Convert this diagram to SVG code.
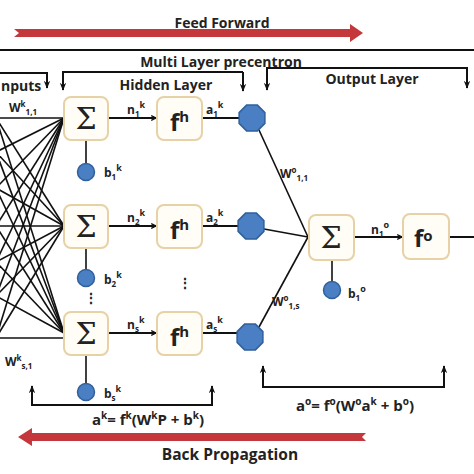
<svg xmlns="http://www.w3.org/2000/svg" width="474" height="474" viewBox="0 0 474 474">
<style>
.t{font-family:"Open Sans","Liberation Sans",sans-serif;font-weight:bold;fill:#222;}
.box{fill:#fffdf6;stroke:#e6d2a6;stroke-width:2;}
.blue{fill:#4a7fc3;stroke:#30609c;stroke-width:1.5;}
.ln{stroke:#111;stroke-width:2;fill:none;}
.thin{stroke:#111;stroke-width:1.6;fill:none;}
.red{fill:#c4373a;}
.sig{font-family:"DejaVu Serif","Liberation Serif",serif;font-size:30px;fill:#222;}
.f{font-family:"Open Sans","Liberation Sans",sans-serif;font-weight:bold;font-size:24px;fill:#222;}
</style>
<defs>
<marker id="ah" viewBox="0 0 10 10" refX="9" refY="5" markerWidth="6" markerHeight="6" orient="auto" markerUnits="userSpaceOnUse">
<path d="M1,1 L9,5 L1,9" fill="none" stroke="#111" stroke-width="2"/>
</marker>
<marker id="ah2" viewBox="0 0 10 10" refX="9" refY="5" markerWidth="8" markerHeight="8" orient="auto" markerUnits="userSpaceOnUse">
<path d="M0,1 L10,5 L0,9 L3,5 Z" fill="#111"/>
</marker>
<polygon id="oct" points="12.9,5.4 5.4,12.9 -5.4,12.9 -12.9,5.4 -12.9,-5.4 -5.4,-12.9 5.4,-12.9 12.9,-5.4"/>
</defs>
<rect width="474" height="474" fill="#fff"/>

<g id="feed-forward">
<path class="red" d="M14,29 L350,29 L350,24 L363,33 L350,42 L350,37 L14,37 L19,33 Z"/>
<text class="t" x="222" y="28" font-size="14" text-anchor="middle">Feed Forward</text>
</g>
<g id="back-propagation">
<path class="red" d="M18,437 L32,428 L32,433 L366,433 L362,437 L366,441 L32,441 L32,446 Z"/>
<text class="t" x="230" y="460" font-size="15.5" text-anchor="middle">Back Propagation</text>
</g>

<g id="connectors">
<line class="ln" x1="0" y1="50" x2="474" y2="50"/>
<path class="ln" d="M0,73 L47,73 L47,88" marker-end="url(#ah2)"/>
<path class="ln" d="M243,72 L63,72 L63,90" marker-end="url(#ah2)"/>
<path class="ln" d="M243,72 L243,91" marker-end="url(#ah2)"/>
<path class="ln" d="M267,88 L267,68 L467,68 L467,88" marker-end="url(#ah2)"/>
<path class="ln" d="M267,68 L267,90" marker-end="url(#ah2)"/>
<path class="ln" d="M32,390 L32,405 L212,405 L212,390"/>
<line class="ln" x1="32" y1="395" x2="32" y2="386" marker-end="url(#ah2)"/>
<line class="ln" x1="212" y1="395" x2="212" y2="386" marker-end="url(#ah2)"/>
<path class="ln" d="M263,370 L263,387 L444,387 L444,370"/>
<line class="ln" x1="263" y1="376" x2="263" y2="366" marker-end="url(#ah2)"/>
<line class="ln" x1="444" y1="376" x2="444" y2="366" marker-end="url(#ah2)"/>
<g class="thin">
<line x1="-4" y1="118" x2="64" y2="118"/><line x1="-4" y1="118" x2="64" y2="226"/><line x1="-4" y1="118" x2="64" y2="333"/>
<line x1="-4" y1="152" x2="64" y2="118"/><line x1="-4" y1="152" x2="64" y2="226"/><line x1="-4" y1="152" x2="64" y2="333"/>
<line x1="-4" y1="188" x2="64" y2="118"/><line x1="-4" y1="188" x2="64" y2="226"/><line x1="-4" y1="188" x2="64" y2="333"/>
<line x1="-4" y1="226" x2="64" y2="118"/><line x1="-4" y1="226" x2="64" y2="226"/><line x1="-4" y1="226" x2="64" y2="333"/>
<line x1="-4" y1="262" x2="64" y2="118"/><line x1="-4" y1="262" x2="64" y2="226"/><line x1="-4" y1="262" x2="64" y2="333"/>
<line x1="-4" y1="296" x2="64" y2="118"/><line x1="-4" y1="296" x2="64" y2="226"/><line x1="-4" y1="296" x2="64" y2="333"/>
<line x1="-4" y1="338" x2="64" y2="118"/><line x1="-4" y1="338" x2="64" y2="226"/><line x1="-4" y1="338" x2="64" y2="338"/>
</g>
<line class="ln" x1="108" y1="118" x2="156" y2="118" marker-end="url(#ah)"/>
<line class="ln" x1="202" y1="118" x2="239" y2="118"/>
<line class="ln" x1="108" y1="226" x2="156" y2="226" marker-end="url(#ah)"/>
<line class="ln" x1="202" y1="226" x2="238" y2="226"/>
<line class="ln" x1="108" y1="333" x2="156" y2="333" marker-end="url(#ah)"/>
<line class="ln" x1="202" y1="333" x2="237" y2="333"/>
<line class="thin" x1="86" y1="140" x2="86" y2="164"/>
<line class="thin" x1="86" y1="248" x2="86" y2="270"/>
<line class="thin" x1="86" y1="355" x2="86" y2="384"/>
<line class="thin" x1="332" y1="260" x2="332" y2="282"/>
<line class="thin" x1="259" y1="130" x2="308" y2="237"/>
<line class="thin" x1="264" y1="229" x2="308" y2="237"/>
<line class="thin" x1="259" y1="327" x2="308" y2="237"/>
<line class="ln" x1="354" y1="237" x2="402" y2="237" marker-end="url(#ah)"/>
<line class="ln" x1="449" y1="237" x2="474" y2="237"/>
</g>

<g id="labels">
<text class="t" x="1" y="91" font-size="14">nputs</text>
<text class="t" x="221" y="67" font-size="14" text-anchor="middle">Multi Layer precentron</text>
<text class="t" x="166" y="90" font-size="14" text-anchor="middle">Hidden Layer</text>
<text class="t" x="372" y="84" font-size="14" text-anchor="middle">Output Layer</text>
<text class="t" x="9" y="112" font-size="12">W<tspan font-size="8" dy="-5">k</tspan><tspan font-size="8" dy="8">1,1</tspan></text>
<text class="t" x="5" y="366" font-size="12">W<tspan font-size="8" dy="-5">k</tspan><tspan font-size="8" dy="8">s,1</tspan></text>
<text class="t" x="127" y="114" font-size="12">n<tspan font-size="8" dy="3">1</tspan><tspan font-size="9" dy="-9">k</tspan></text>
<text class="t" x="127" y="222" font-size="12">n<tspan font-size="8" dy="3">2</tspan><tspan font-size="9" dy="-9">k</tspan></text>
<text class="t" x="127" y="329" font-size="12">n<tspan font-size="8" dy="3">s</tspan><tspan font-size="9" dy="-9">k</tspan></text>
<text class="t" x="206" y="114" font-size="12">a<tspan font-size="8" dy="3">1</tspan><tspan font-size="9" dy="-9">k</tspan></text>
<text class="t" x="206" y="222" font-size="12">a<tspan font-size="8" dy="3">2</tspan><tspan font-size="9" dy="-9">k</tspan></text>
<text class="t" x="206" y="329" font-size="12">a<tspan font-size="8" dy="3">s</tspan><tspan font-size="9" dy="-9">k</tspan></text>
<text class="t" x="104" y="177" font-size="12">b<tspan font-size="8" dy="3">1</tspan><tspan font-size="9" dy="-9">k</tspan></text>
<text class="t" x="104" y="284" font-size="12">b<tspan font-size="8" dy="3">2</tspan><tspan font-size="9" dy="-9">k</tspan></text>
<text class="t" x="104" y="398" font-size="12">b<tspan font-size="8" dy="3">s</tspan><tspan font-size="9" dy="-9">k</tspan></text>
<text class="t" x="84" y="303" font-size="14">⋮</text>
<text class="t" x="178" y="288" font-size="14">⋮</text>
<text class="t" x="280" y="178" font-size="12">W<tspan font-size="8" dy="-5">o</tspan><tspan font-size="8" dy="8">1,1</tspan></text>
<text class="t" x="272" y="306" font-size="12">W<tspan font-size="8" dy="-5">o</tspan><tspan font-size="8" dy="8">1,s</tspan></text>
<text class="t" x="371" y="234" font-size="12">n<tspan font-size="8" dy="3">1</tspan><tspan font-size="9" dy="-9">o</tspan></text>
<text class="t" x="348" y="298" font-size="12">b<tspan font-size="8" dy="3">1</tspan><tspan font-size="9" dy="-9">o</tspan></text>
<text class="t" x="148" y="425" font-size="15" text-anchor="middle">a<tspan font-size="10" dy="-6">k</tspan><tspan dy="6">=  f</tspan><tspan font-size="10" dy="-6">k</tspan><tspan dy="6">(W</tspan><tspan font-size="10" dy="-6">k</tspan><tspan dy="6">P + b</tspan><tspan font-size="10" dy="-6">k</tspan><tspan dy="6">)</tspan></text>
<text class="t" x="355" y="411" font-size="15" text-anchor="middle">a<tspan font-size="10" dy="-6">o</tspan><tspan dy="6">=  f</tspan><tspan font-size="10" dy="-6">o</tspan><tspan dy="6">(W</tspan><tspan font-size="10" dy="-6">o</tspan><tspan dy="6">a</tspan><tspan font-size="10" dy="-6">k</tspan><tspan dy="6"> + b</tspan><tspan font-size="10" dy="-6">o</tspan><tspan dy="6">)</tspan></text>
</g>

<g id="sum-1"><rect class="box" x="64" y="97" width="44" height="43" rx="7"/><text class="sig" x="86" y="129" text-anchor="middle">Σ</text></g>
<g id="sum-2"><rect class="box" x="64" y="205" width="44" height="43" rx="7"/><text class="sig" x="86" y="237" text-anchor="middle">Σ</text></g>
<g id="sum-s"><rect class="box" x="64" y="312" width="44" height="43" rx="7"/><text class="sig" x="86" y="344" text-anchor="middle">Σ</text></g>
<g id="fh-1"><rect class="box" x="157" y="97" width="45" height="43" rx="7"/><text class="f" x="170" y="131">f<tspan font-size="15" dy="-9">h</tspan></text></g>
<g id="fh-2"><rect class="box" x="157" y="205" width="45" height="43" rx="7"/><text class="f" x="170" y="239">f<tspan font-size="15" dy="-9">h</tspan></text></g>
<g id="fh-s"><rect class="box" x="157" y="312" width="45" height="43" rx="7"/><text class="f" x="170" y="346">f<tspan font-size="15" dy="-9">h</tspan></text></g>
<g id="a-1"><use href="#oct" class="blue" x="252" y="118"/></g>
<g id="a-2"><use href="#oct" class="blue" x="251" y="226"/></g>
<g id="a-s"><use href="#oct" class="blue" x="250" y="337"/></g>
<g id="b-1"><circle class="blue" cx="86" cy="172" r="8.5"/></g>
<g id="b-2"><circle class="blue" cx="86" cy="278" r="8.5"/></g>
<g id="b-s"><circle class="blue" cx="86" cy="392" r="8.5"/></g>
<g id="sum-out"><rect class="box" x="309" y="215" width="45" height="45" rx="7"/><text class="sig" x="331" y="248" text-anchor="middle">Σ</text></g>
<g id="fo"><rect class="box" x="403" y="214" width="46" height="45" rx="7"/><text class="f" x="414" y="247">f<tspan font-size="15" dy="-6">o</tspan></text></g>
<g id="b-out"><circle class="blue" cx="332" cy="290" r="8.5"/></g>
</svg>
